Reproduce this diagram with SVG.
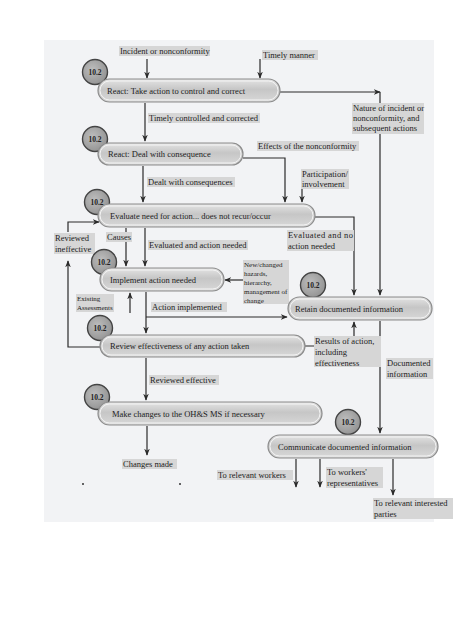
<svg xmlns="http://www.w3.org/2000/svg" width="474" height="632" viewBox="0 0 474 632">
<defs>
<linearGradient id="pg" x1="0" y1="0" x2="0" y2="1">
<stop offset="0" stop-color="#e4e4e4"/>
<stop offset="0.45" stop-color="#c6c6c6"/>
<stop offset="1" stop-color="#d8d8d8"/>
</linearGradient>
<radialGradient id="bg" cx="0.4" cy="0.4" r="0.7">
<stop offset="0" stop-color="#bdbdbd"/>
<stop offset="1" stop-color="#8f8f8f"/>
</radialGradient>
<marker id="ah" viewBox="0 0 10 10" refX="9" refY="5" markerWidth="7" markerHeight="7" orient="auto" markerUnits="userSpaceOnUse">
<path d="M0,1 L10,5 L0,9 L3,5 Z" fill="#2a2a2a"/>
</marker>
<style>
.pill{fill:url(#pg);stroke:#8c8c8c;stroke-width:1.2}
.rim{fill:none;stroke:#f4f4f4;stroke-width:1}
.badge{fill:url(#bg);stroke:#444;stroke-width:1.4}
.bt{font-family:"Liberation Serif",serif;font-size:7.5px;font-weight:bold;fill:#222;text-anchor:middle}
.nt{font-family:"Liberation Serif",serif;font-size:8.5px;fill:#222}
.lt{font-family:"Liberation Serif",serif;font-size:8.5px;fill:#222}
.st{font-family:"Liberation Serif",serif;font-size:7px;fill:#222}
.lb{fill:#d6d6d6}
.cn{fill:none;stroke:#2a2a2a;stroke-width:1.2}
.ar{marker-end:url(#ah)}
</style>
</defs>
<rect x="0" y="0" width="474" height="632" fill="#ffffff"/>
<rect x="44" y="40" width="390" height="482" fill="#f2f3f5"/>

<g id="connectors">
<path class="cn ar" d="M147,59 V78"/>
<path class="cn ar" d="M260,59 V78"/>
<path class="cn ar" d="M145,103 V141"/>
<path class="cn ar" d="M280,92 H380"/>
<path class="cn ar" d="M380,92 V295"/>
<path class="cn ar" d="M243,158 H285 V202"/>
<path class="cn ar" d="M302,189 V202"/>
<path class="cn ar" d="M143,166 V202"/>
<path class="cn ar" d="M315,217 H354 V295"/>
<path class="cn ar" d="M126,228 V266"/>
<path class="cn ar" d="M145,228 V266"/>
<path class="cn ar" d="M243,280 H225"/>
<path class="cn ar" d="M130,313 V293"/>
<path class="cn ar" d="M146,292 V333"/>
<path class="cn ar" d="M146,317 H287"/>
<path class="cn ar" d="M305,346 H354 V322"/>
<path class="cn ar" d="M380,321 V433"/>
<path class="cn ar" d="M100,347 H68 V261"/>
<path class="cn ar" d="M68,232 V222 H99"/>
<path class="cn ar" d="M146,358 V400"/>
<path class="cn ar" d="M147,426 V455"/>
<path class="cn ar" d="M296,459 V487"/>
<path class="cn ar" d="M320,459 V487"/>
<path class="cn ar" d="M393,459 V495"/>
</g>

<g id="labels">
<rect class="lb" x="119" y="46" width="91" height="10"/>
<text class="lt" x="120" y="54">Incident or nonconformity</text>
<rect class="lb" x="262" y="50" width="56" height="10"/>
<text class="lt" x="263" y="58">Timely manner</text>
<rect class="lb" x="352" y="103" width="72" height="31"/>
<text class="lt" x="353" y="111">Nature of incident or</text>
<text class="lt" x="353" y="121">nonconformity, and</text>
<text class="lt" x="353" y="131">subsequent actions</text>
<rect class="lb" x="148" y="113" width="112" height="10"/>
<text class="lt" x="149" y="121">Timely controlled and corrected</text>
<rect class="lb" x="257" y="141" width="102" height="10"/>
<text class="lt" x="258" y="149">Effects of the nonconformity</text>
<rect class="lb" x="147" y="177" width="88" height="10"/>
<text class="lt" x="148" y="185">Dealt with consequences</text>
<rect class="lb" x="301" y="169" width="48" height="20"/>
<text class="lt" x="302" y="177">Participation/</text>
<text class="lt" x="302" y="187">involvement</text>
<rect class="lb" x="54" y="233" width="41" height="21"/>
<text class="lt" x="55" y="241">Reviewed</text>
<text class="lt" x="55" y="252">ineffective</text>
<rect class="lb" x="106" y="232" width="26" height="10"/>
<text class="lt" x="107" y="240">Causes</text>
<rect class="lb" x="148" y="240" width="100" height="10"/>
<text class="lt" x="149" y="248">Evaluated and action needed</text>
<rect class="lb" x="287" y="230" width="67" height="21"/>
<text class="lt" x="288" y="238" textLength="65" lengthAdjust="spacing">Evaluated and no</text>
<text class="lt" x="288" y="249">action needed</text>
<rect class="lb" x="243" y="260" width="46" height="44"/>
<text class="st" x="244" y="267">New/changed</text>
<text class="st" x="244" y="276">hazards,</text>
<text class="st" x="244" y="285">hierarchy,</text>
<text class="st" x="244" y="294">management of</text>
<text class="st" x="244" y="303">change</text>
<rect class="lb" x="76" y="294" width="38" height="18"/>
<text class="st" x="77" y="301">Existing</text>
<text class="st" x="77" y="310">Assessments</text>
<rect class="lb" x="151" y="302" width="76" height="10"/>
<text class="lt" x="152" y="310">Action implemented</text>
<rect class="lb" x="314" y="336" width="67" height="31"/>
<text class="lt" x="315" y="344">Results of action,</text>
<text class="lt" x="315" y="355">including</text>
<text class="lt" x="315" y="366">effectiveness</text>
<rect class="lb" x="386" y="358" width="47" height="21"/>
<text class="lt" x="387" y="366">Documented</text>
<text class="lt" x="387" y="377">information</text>
<rect class="lb" x="149" y="375" width="70" height="10"/>
<text class="lt" x="150" y="383">Reviewed effective</text>
<rect class="lb" x="122" y="459" width="55" height="10"/>
<text class="lt" x="123" y="467">Changes made</text>
<rect class="lb" x="217" y="470" width="76" height="10"/>
<text class="lt" x="218" y="478">To relevant workers</text>
<rect class="lb" x="326" y="467" width="57" height="21"/>
<text class="lt" x="327" y="475">To workers'</text>
<text class="lt" x="327" y="486">representatives</text>
<rect class="lb" x="373" y="498" width="80" height="21"/>
<text class="lt" x="374" y="506">To relevant interested</text>
<text class="lt" x="374" y="517">parties</text>
</g>

<g id="n1">
<circle class="badge" cx="95" cy="72" r="12.5"/>
<text class="bt" x="95" y="74.5">10.2</text>
<rect class="pill" x="98" y="79" width="182" height="23" rx="11.5"/>
<rect class="rim" x="100" y="81" width="178" height="19" rx="9.5"/>
<text class="nt" x="107" y="93.5">React: Take action to control and correct</text>
</g>
<g id="n2">
<circle class="badge" cx="95" cy="139" r="12.5"/>
<text class="bt" x="95" y="141.5">10.2</text>
<rect class="pill" x="98" y="143" width="145" height="22" rx="11"/>
<rect class="rim" x="100" y="145" width="141" height="18" rx="9"/>
<text class="nt" x="108" y="157">React: Deal with consequence</text>
</g>
<g id="n3">
<circle class="badge" cx="97" cy="202" r="12.5"/>
<text class="bt" x="97" y="204.5">10.2</text>
<rect class="pill" x="98" y="204" width="217" height="23" rx="11.5"/>
<rect class="rim" x="100" y="206" width="213" height="19" rx="9.5"/>
<text class="nt" x="110" y="218.5">Evaluate need for action... does not recur/occur</text>
</g>
<g id="n4">
<circle class="badge" cx="104" cy="262" r="12.5"/>
<text class="bt" x="104" y="264.5">10.2</text>
<rect class="pill" x="100" y="268" width="124" height="23" rx="11.5"/>
<rect class="rim" x="102" y="270" width="120" height="19" rx="9.5"/>
<text class="nt" x="110" y="282.5">Implement action needed</text>
</g>
<g id="n5">
<circle class="badge" cx="313" cy="285" r="12.5"/>
<text class="bt" x="313" y="287.5">10.2</text>
<rect class="pill" x="288" y="297" width="144" height="23" rx="11.5"/>
<rect class="rim" x="290" y="299" width="140" height="19" rx="9.5"/>
<text class="nt" x="295" y="311.5">Retain documented information</text>
</g>
<g id="n6">
<circle class="badge" cx="100" cy="328" r="12.5"/>
<text class="bt" x="100" y="330.5">10.2</text>
<rect class="pill" x="100" y="335" width="205" height="22" rx="11"/>
<rect class="rim" x="102" y="337" width="201" height="18" rx="9"/>
<text class="nt" x="110" y="349">Review effectiveness of any action taken</text>
</g>
<g id="n7">
<circle class="badge" cx="97" cy="397" r="12.5"/>
<text class="bt" x="97" y="399.5">10.2</text>
<rect class="pill" x="98" y="402" width="224" height="23" rx="11.5"/>
<rect class="rim" x="100" y="404" width="220" height="19" rx="9.5"/>
<text class="nt" x="112" y="416.5">Make changes to the OH&amp;S MS if necessary</text>
</g>
<g id="n8">
<circle class="badge" cx="348" cy="422" r="12.5"/>
<text class="bt" x="348" y="424.5">10.2</text>
<rect class="pill" x="268" y="435" width="170" height="23" rx="11.5"/>
<rect class="rim" x="270" y="437" width="166" height="19" rx="9.5"/>
<text class="nt" x="278" y="449.5">Communicate documented information</text>
</g>
<circle cx="83" cy="484" r="1" fill="#333"/>
<circle cx="180" cy="484" r="1" fill="#333"/>
</svg>
